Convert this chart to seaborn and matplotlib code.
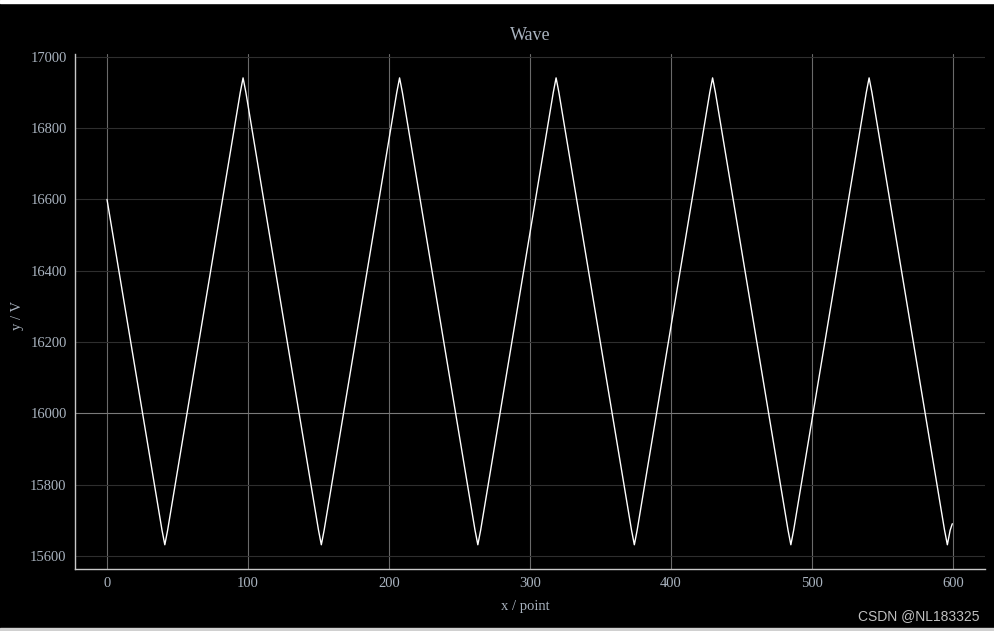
import numpy as np
import pandas as pd
import matplotlib.pyplot as plt
import seaborn as sb

# points: start, rounded troughs and peaks, end
wave_x = [0,
          39, 41, 43,
          94.5, 96.5, 98.5,
          150, 152, 154,
          205.5, 207.5, 209.5,
          261, 263, 265,
          316.5, 318.5, 320.5,
          372, 374, 376,
          427.5, 429.5, 431.5,
          483, 485, 487,
          538.5, 540.5, 542.5,
          594, 596, 598,
          599.5]
wave_y = [16600,
          15672, 15631, 15672,
          16900, 16941, 16900,
          15672, 15631, 15672,
          16900, 16941, 16900,
          15672, 15631, 15672,
          16900, 16941, 16900,
          15672, 15631, 15672,
          16900, 16941, 16900,
          15672, 15631, 15672,
          16900, 16941, 16900,
          15672, 15631, 15672,
          15690]

x_ticks = [0, 100, 200, 300, 400, 500, 600]
y_ticks = [15600, 15800, 16000, 16200, 16400, 16600, 16800, 17000]

df_wave = pd.DataFrame({"x": wave_x, "y": wave_y})

sb.set_style("dark")
plt.rcParams["font.family"] = ["Liberation Serif", "DejaVu Serif"]

text_col = "#a9b3bf"
fig = plt.figure(figsize=(9.95, 6.31), dpi=100, facecolor="black")
ax = fig.add_axes([75/995, 62/631, 910/995, 515/631])
ax.set_facecolor("black")

# grid lines
for xv in x_ticks:
    ax.axvline(xv, color="#6a6a6a", lw=0.8, zorder=1)
for yv in y_ticks:
    c = "#7a7a7a" if yv == 16000 else "#2e2e2e"
    ax.axhline(yv, color=c, lw=0.8, zorder=1)

sb.lineplot(data=df_wave, x="x", y="y", color="white", linewidth=1.0, ax=ax, zorder=3)

ax.set_xlim(-22.7, 622.7)
ax.set_ylim(15563, 17008)
ax.set_xticks(x_ticks)
ax.set_yticks(y_ticks)
ax.tick_params(length=0, colors=text_col, labelsize=10.5, pad=6)
for lab in ax.get_xticklabels() + ax.get_yticklabels():
    lab.set_color(text_col)

for side in ["top", "right"]:
    ax.spines[side].set_visible(False)
for side in ["left", "bottom"]:
    ax.spines[side].set_visible(True)
    ax.spines[side].set_color("#c8c8c8")
    ax.spines[side].set_linewidth(1.0)

ax.set_title("Wave", color=text_col, fontsize=13, pad=10)
ax.set_xlabel("x / point", color=text_col, fontsize=10.5)
ax.set_ylabel("y / V", color=text_col, fontsize=10.5)
ax.xaxis.set_label_coords((525 - 75) / 910, (569 - 600) / 515)
ax.yaxis.set_label_coords((24 - 75) / 910, (569 - 315) / 515)

fig.text(980/995, 1 - 616/631, "CSDN @NL183325", color="#c0c0c0", fontsize=10,
         ha="right", va="center", family=["Liberation Sans", "DejaVu Sans"])

# screenshot edges
fig.patches.append(plt.Rectangle((0, 1 - 3/631), 1, 3/631, transform=fig.transFigure,
                                 color="white", zorder=0))
fig.patches.append(plt.Rectangle((0, 0), 1, 3/631, transform=fig.transFigure,
                                 color="#d0d0d0", zorder=0))

fig.savefig("out.png", dpi=100, facecolor="black")
